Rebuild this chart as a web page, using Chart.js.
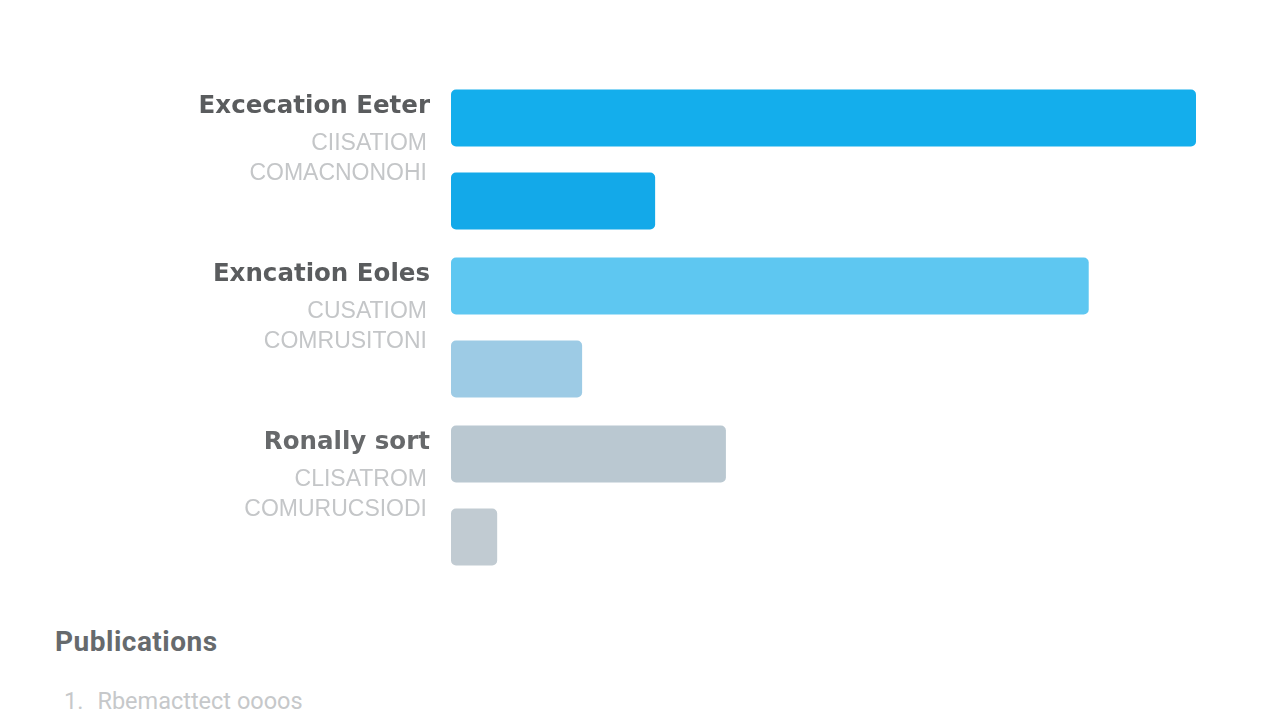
<!DOCTYPE html>
<html>
<head>
<meta charset="utf-8">
<script src="https://cdn.jsdelivr.net/npm/chart.js@4/dist/chart.umd.min.js"></script>
<style>
  html, body { margin:0; padding:0; background:#ffffff; width:1280px; height:720px; overflow:hidden; }
  #wrap { position:absolute; left:0; top:0; width:1280px; height:600px; }
  #pubTitle { position:absolute; left:55px; top:625px; font-family:"Roboto","Liberation Sans",sans-serif; font-weight:700; font-size:28px; letter-spacing:0.5px; color:#666a6d; line-height:34px; }
  #pubItem { position:absolute; left:64px; top:686px; font-family:"Roboto","Liberation Sans",sans-serif; font-size:23.5px; color:#c6c8ca; line-height:30px; white-space:pre; }
  #pubItem span { margin-left:14px; }
</style>
</head>
<body>
<div id="wrap"><canvas id="c"></canvas></div>
<div id="pubTitle">Publications</div>
<div id="pubItem">1.<span>Rbemacttect oooos</span></div>
<script>
// ---- data ----
const categories = ["Excecation Eeter", "Exncation Eoles", "Ronally sort"];
const subLabelsA = ["CIISATIOM", "CUSATIOM", "CLISATROM"];
const subLabelsB = ["COMACNONOHI", "COMRUSITONI", "COMURUCSIODI"];
const seriesA = [100, 85.6, 36.9];
const seriesB = [27.4, 17.6, 6.2];
const colorsA = ["#14AEEC", "#5EC7F1", "#BAC8D1"];
const colorsB = ["#13A9E9", "#9DCBE5", "#C1CBD2"];
const titleColors = ["#5a5c5e", "#5a5c5e", "#67696b"];

const labelPlugin = {
  id: 'catLabels',
  afterDraw(chart) {
    const ctx = chart.ctx;
    const y = chart.scales.y;
    ctx.save();
    ctx.textAlign = 'right';
    ctx.textBaseline = 'middle';
    categories.forEach((cat, i) => {
      const yc = y.getPixelForValue(i);
      ctx.font = 'bold 24.5px "DejaVu Sans", "Liberation Sans", sans-serif';
      ctx.fillStyle = titleColors[i];
      ctx.fillText(cat, 430, yc - 53);
      ctx.font = '23px "Liberation Sans", Arial, sans-serif';
      ctx.fillStyle = '#c4c6c8';
      ctx.fillText(subLabelsA[i], 427, yc - 15.5);
      ctx.fillText(subLabelsB[i], 427, yc + 14);
    });
    ctx.restore();
  }
};

new Chart(document.getElementById('c'), {
  type: 'bar',
  data: {
    labels: categories,
    datasets: [
      { data: seriesA, backgroundColor: colorsA, borderRadius: 5, borderSkipped: false,
        categoryPercentage: 0.99, barPercentage: 0.685 },
      { data: seriesB, backgroundColor: colorsB, borderRadius: 5, borderSkipped: false,
        categoryPercentage: 0.99, barPercentage: 0.685 }
    ]
  },
  options: {
    indexAxis: 'y',
    responsive: true,
    maintainAspectRatio: false,
    animation: false,
    layout: { padding: { left: 451, right: 84, top: 75.5, bottom: 20.5 } },
    plugins: { legend: { display: false }, tooltip: { enabled: false }, title: { display: false } },
    scales: {
      x: { display: false, min: 0, max: 100 },
      y: { display: false }
    }
  },
  plugins: [labelPlugin]
});
</script>
</body>
</html>
